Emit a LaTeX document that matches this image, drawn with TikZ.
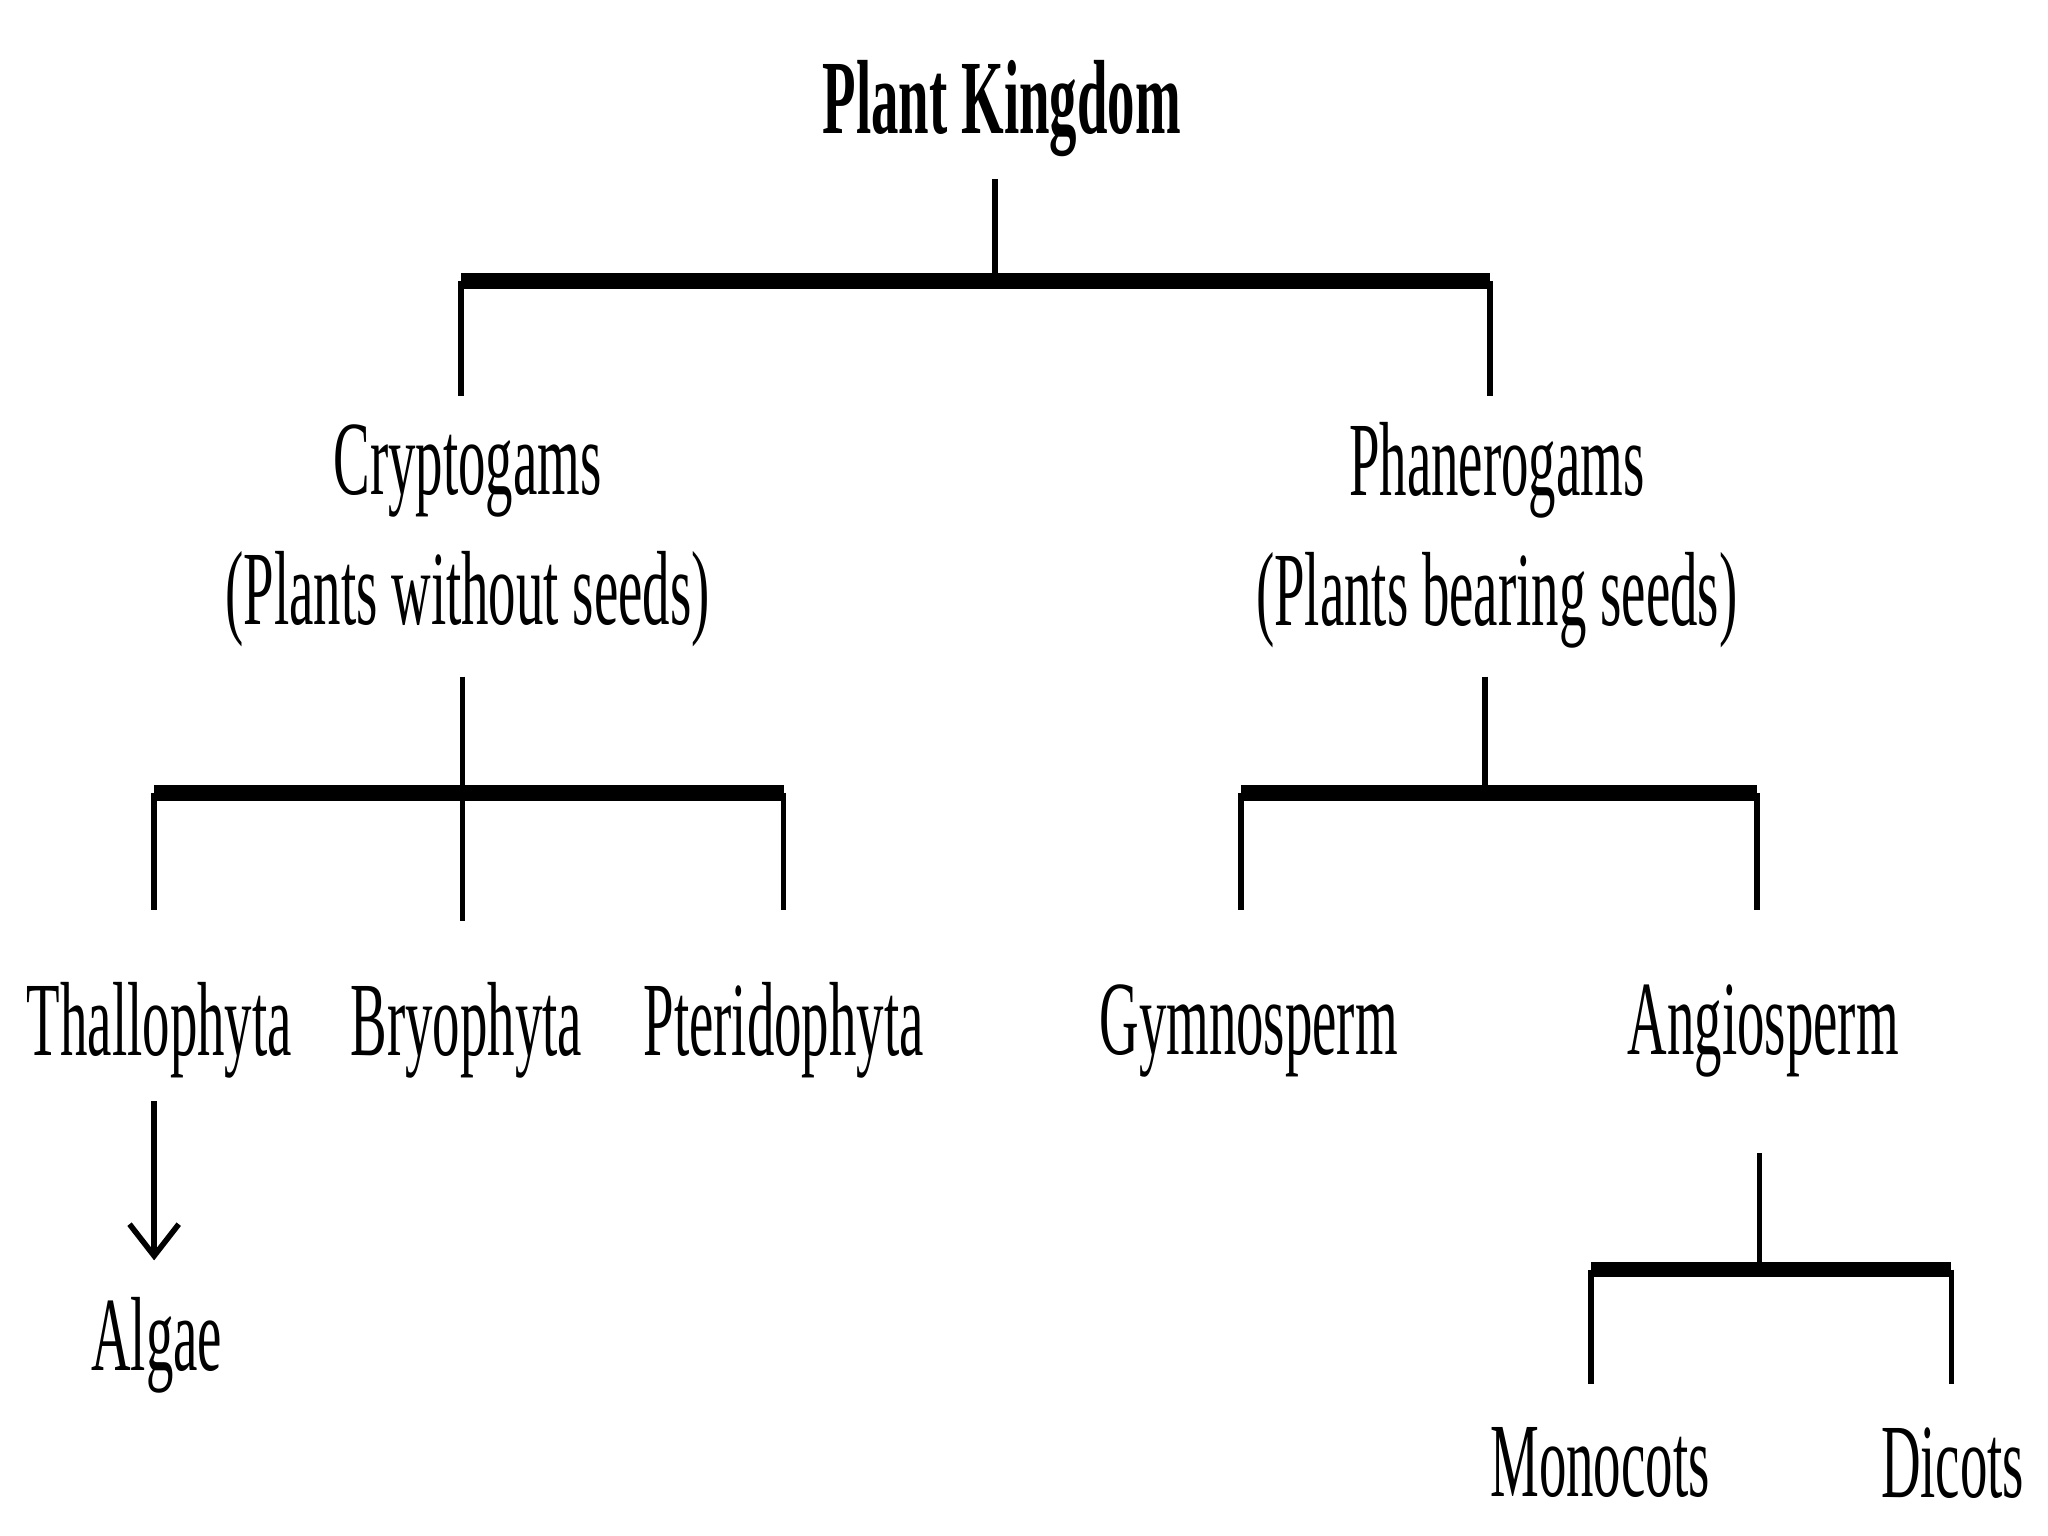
\documentclass[tikz,border=0pt]{standalone}
\usepackage{fontspec}
\usetikzlibrary{arrows.meta}
\setmainfont[FakeStretch=0.52]{Liberation Serif}
\begin{document}
\begin{tikzpicture}[x=0.01306cm,y=-0.01306cm,
  lbl/.style={font=\fontsize{30}{37}\selectfont,inner sep=0pt,align=center},
  bar/.style={line width=4.5pt},
  stem/.style={line width=1.6pt}]
\useasboundingbox (0,0) rectangle (1568,1176);
\node[lbl,font=\fontsize{30}{36}\selectfont\bfseries] (pk) at (767,83) {Plant Kingdom};
\node[lbl] (cr) at (358,410) {Cryptogams\\(Plants without seeds)};
\node[lbl] (ph) at (1146,410) {Phanerogams\\(Plants bearing seeds)};
\node[lbl] (th) at (122,789) {Thallophyta};
\node[lbl] (br) at (357,789) {Bryophyta};
\node[lbl] (pt) at (600,789) {Pteridophyta};
\node[lbl] (gy) at (956,789) {Gymnosperm};
\node[lbl] (an) at (1350,789) {Angiosperm};
\node[lbl] (al) at (120,1030) {Algae};
\node[lbl] (mo) at (1225,1120) {Monocots};
\node[lbl] (di) at (1495,1120) {Dicots};
% top
\coordinate (t1) at (762,137); \coordinate (t2) at (762,215);
\draw[stem] (t1) -- (t2);
\coordinate (tl) at (353,215); \coordinate (tr) at (1141,215);
\draw[bar] (tl) -- (tr);
\coordinate (tld) at (353,303); \coordinate (trd) at (1141,303);
\draw[stem] (tl) -- (tld); \draw[stem] (tr) -- (trd);
% left
\coordinate (c1) at (354,518); \coordinate (c2) at (354,705);
\draw[stem] (c1) -- (c2);
\coordinate (bl) at (118,607); \coordinate (brr) at (600,607);
\draw[bar] (bl) -- (brr);
\coordinate (bld) at (118,697); \coordinate (brd) at (600,697);
\draw[stem] (bl) -- (bld); \draw[stem] (brr) -- (brd);
% right
\coordinate (p1) at (1137,518); \coordinate (p2) at (1137,607);
\draw[stem] (p1) -- (p2);
\coordinate (rl) at (950,607); \coordinate (rr) at (1345,607);
\draw[bar] (rl) -- (rr);
\coordinate (rld) at (950,697); \coordinate (rrd) at (1345,697);
\draw[stem] (rl) -- (rld); \draw[stem] (rr) -- (rrd);
% algae arrow
\coordinate (a1) at (118,843); \coordinate (a2) at (118,965);
\draw[stem,-{Straight Barb[length=9pt,width=14pt]}] (a1) -- (a2);
% angio
\coordinate (g1) at (1347,883); \coordinate (g2) at (1347,972);
\draw[stem] (g1) -- (g2);
\coordinate (gl) at (1218,972); \coordinate (gr) at (1494,972);
\draw[bar] (gl) -- (gr);
\coordinate (gld) at (1218,1060); \coordinate (grd) at (1494,1060);
\draw[stem] (gl) -- (gld); \draw[stem] (gr) -- (grd);
\end{tikzpicture}
\end{document}
